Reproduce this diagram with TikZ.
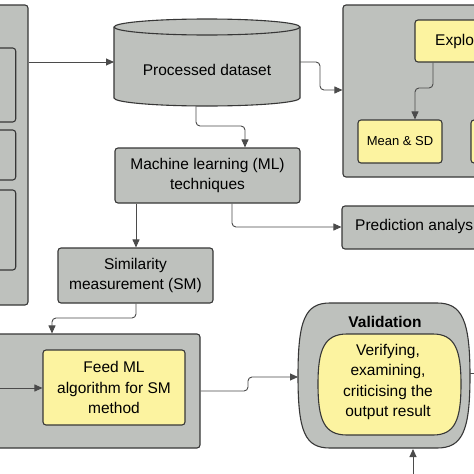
\documentclass[tikz,border=0pt]{standalone}
\usepackage{fontspec}
\setmainfont{Liberation Sans}
\usetikzlibrary{arrows.meta,calc}
\definecolor{panelgrey}{RGB}{190,193,189}
\definecolor{boxyellow}{RGB}{252,243,160}
\definecolor{edgegrey}{RGB}{55,55,55}
\definecolor{linegrey}{RGB}{75,75,75}
\tikzset{
  panel/.style={draw=edgegrey, line width=1.1pt, fill=panelgrey, rounded corners=3pt, inner sep=0pt},
  greybox/.style={draw=edgegrey, line width=1.1pt, fill=panelgrey, rounded corners=3pt, inner sep=0pt, align=center, font=\fontsize{15.5}{20}\selectfont},
  yellowbox/.style={draw=edgegrey, line width=1.1pt, fill=boxyellow, rounded corners=3pt, inner sep=0pt, align=center, font=\fontsize{15.5}{20.5}\selectfont},
  arr/.style={draw=linegrey, line width=0.9pt, rounded corners=4pt, -{Triangle[length=8pt,width=7pt]}},
  plain/.style={draw=linegrey, line width=0.9pt, rounded corners=4pt},
  txt/.style={inner sep=0pt, align=center, font=\fontsize{15.5}{20.5}\selectfont},
}
\newcommand{\boxat}[6]{% name, style, x1,y1,x2,y2
  \node[#2, minimum width=#5pt-#3pt, minimum height=#6pt-#4pt] (#1) at ({(#3+#5)/2},{(#4+#6)/2}) {};}
\begin{document}
\begin{tikzpicture}[x=1pt,y=-1pt]
\useasboundingbox (0,0) rectangle (474,474);
\clip (0,0) rectangle (474,474);
\fill[white] (0,0) rectangle (474,474);

% left panel
\boxat{leftpanel}{panel}{-10}{5}{28}{305}
\boxat{lbone}{panel}{-10}{48}{15.7}{122}
\boxat{lbtwo}{panel}{-10}{130}{15.7}{180}
\boxat{lbthree}{panel}{-10}{190}{15.7}{270}

% cylinder
\draw[draw=edgegrey, line width=1.1pt, fill=panelgrey]
  (114,27) -- (114,98) arc[start angle=180, end angle=360, x radius=93pt, y radius=8pt]
  -- (300,27) arc[start angle=0, end angle=180, x radius=93pt, y radius=8pt] -- cycle;
\draw[draw=edgegrey, line width=1.1pt]
  (114,27) arc[start angle=180, end angle=360, x radius=93pt, y radius=8pt];
\node[txt] (pd) at (207,70) {Processed dataset};
\coordinate (pdW) at (114,62);
\coordinate (pdE) at (300,62);
\coordinate (pdS) at (196,106);

% right panel
\boxat{rightpanel}{panel}{343}{5}{500}{177}
\boxat{explo}{yellowbox}{415}{20}{500}{62}
\node[txt, anchor=west] (explotxt) at (435,41) {Explo};
\boxat{mean}{yellowbox}{358}{120}{442}{163}
\node[txt, font=\fontsize{13}{16}\selectfont] (meantxt) at (mean) {Mean \& SD};
\boxat{third}{yellowbox}{471}{120}{500}{163}

% ML techniques
\boxat{ml}{greybox}{115}{148}{300}{203}
\node[txt] (mltxt) at (ml) {Machine learning (ML)\\techniques};

% prediction
\boxat{pred}{greybox}{342}{206}{500}{249}
\node[txt, anchor=west] (predtxt) at (355,226) {Prediction analys};

% similarity
\boxat{sm}{greybox}{58}{248}{213}{303}
\node[txt] (smtxt) at (sm) {Similarity\\measurement (SM)};

% bottom-left panel
\boxat{blpanel}{panel}{-10}{334}{200}{448}
\boxat{feed}{yellowbox}{43}{350}{185}{425}
\node[txt] (feedtxt) at (feed) {Feed ML\\algorithm for SM\\method};
\coordinate (feedin) at (-5,388);

% validation
\draw[draw=edgegrey, line width=1.1pt, fill=panelgrey]
  (330,303) -- (437,303) .. controls (462,303) and (470,320) .. (470,376)
  .. controls (470,432) and (462,448) .. (437,448) -- (330,448)
  .. controls (305,448) and (298,432) .. (298,376)
  .. controls (298,320) and (305,303) .. (330,303) -- cycle;
\draw[draw=edgegrey, line width=1.1pt, fill=boxyellow]
  (347,334) -- (433,334) .. controls (455,334) and (461,350) .. (461,384)
  .. controls (461,420) and (455,435) .. (433,435) -- (347,435)
  .. controls (324,435) and (318,420) .. (318,384)
  .. controls (318,350) and (324,334) .. (347,334) -- cycle;
\node[txt, font=\bfseries\fontsize{15.5}{20}\selectfont] (validtitle) at (385,322) {Validation};
\node[txt] (validtxt) at (388,382) {Verifying,\\examining,\\criticising the\\output result};
\coordinate (validW) at (298,377);
\coordinate (validS) at (413,449);
\coordinate (validE) at (470,373);
\coordinate (validin) at (413,480);
\coordinate (validout) at (480,373);

% connectors
\draw[arr] (leftpanel.east |- pdW) -- (pdW);
\draw[arr] (pdE) -- (320,62) -- (320,90) -- (rightpanel.west |- 0,90);
\draw[arr] (pdS) -- (196,126) -- (245,126) -- (ml.north -| 245,0);
\draw[arr] (explo.south -| 433,0) -- (433,88) -- (415,88) -- (mean.north -| 415,0);
\draw[arr] (ml.south -| 232,0) -- (232,227) -- (pred.west |- 0,227);
\draw[arr] (ml.south -| 136,0) -- (sm.north -| 136,0);
\draw[arr] (sm.south -| 136,0) -- (136,318) -- (52,318) -- (blpanel.north -| 52,0);
\draw[arr] (blpanel.east |- 0,391) -- (248,391) -- (248,377) -- (validW);
\draw[arr] (feedin) -- (feed.west |- feedin);
\draw[arr] (validin) -- (validS);
\draw[plain] (validE) -- (validout);
\end{tikzpicture}
\end{document}
